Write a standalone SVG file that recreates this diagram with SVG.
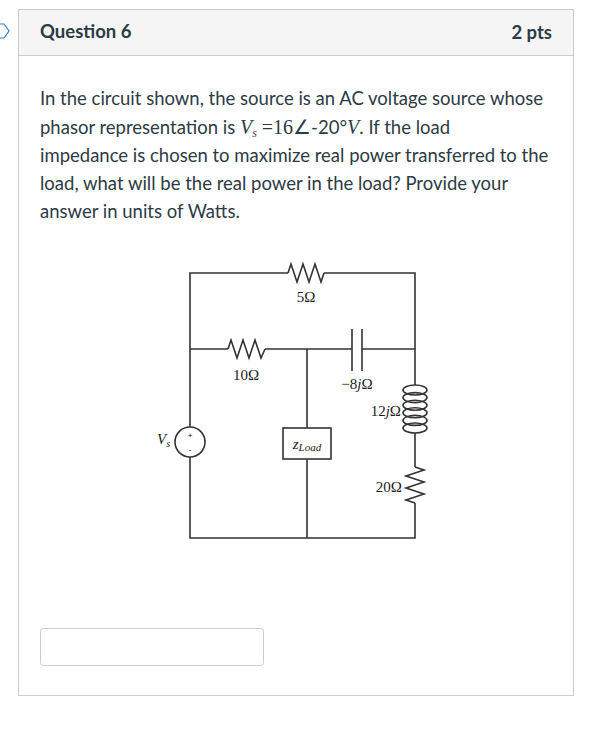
<svg xmlns="http://www.w3.org/2000/svg" width="602" height="729" viewBox="0 0 602 729">
<style>
.t{font-family:"Lato","Liberation Sans",sans-serif;font-size:18.5px;fill:#2d3b45}
.w{fill:none;stroke:#333;stroke-width:1.6}
.l{font-family:"Liberation Serif",serif;font-size:15px;fill:#222}
</style>
<rect width="602" height="729" fill="#fff"/>
<path d="M0 24 L4 24 L9 31 L4 38 L0 38" fill="none" stroke="#2d7bd0" stroke-width="1.2"/>
<rect x="18.5" y="9.5" width="555" height="686" fill="#fff" stroke="#c7cdd1"/>
<rect x="19" y="10" width="554" height="45" fill="#f5f5f5"/>
<line x1="19" y1="55.5" x2="573" y2="55.5" stroke="#c7cdd1"/>
<text x="40" y="38" class="t" font-weight="bold" font-size="18">Question 6</text>
<text x="552" y="39" class="t" text-anchor="end" font-weight="bold" font-size="17">2 pts</text>
<text class="t"><tspan x="40" y="105">In the circuit shown, the source is an AC voltage source whose</tspan>
<tspan x="40" y="134">phasor representation is <tspan font-family="Liberation Serif" font-style="italic" font-size="20">V<tspan font-size="12" dy="3">s</tspan></tspan><tspan font-family="Liberation Serif" font-size="20" dy="-3"> =16∠</tspan>-20°<tspan font-family="Liberation Serif" font-style="italic" font-size="20">V</tspan>.  If the load</tspan>
<tspan x="40" y="162">impedance is chosen to maximize real power transferred to the</tspan>
<tspan x="40" y="190">load, what will be the real power in the load?  Provide your</tspan>
<tspan x="40" y="218">answer in units of Watts.</tspan></text>
<g id="connectors">
<path class="w" d="M190 427 V273 H288 M324 273 H415 V385 M415 433 V467 M415 503 V538 H190 V457 M190 349 H228 M265 349 H352 M362 349 H415 M307 349 V428 M307 459 V538"/>
</g>
<g id="r5"><path class="w" d="M288 273 L291 264 L297 282 L303 264 L309 282 L315 264 L321 282 L324 273"/><text x="306" y="302" class="l" text-anchor="middle">5Ω</text></g>
<g id="r10"><path class="w" d="M228 349 L231 340 L237 358 L243 340 L249 358 L255 340 L261 358 L265 349"/><text x="246" y="380" class="l" text-anchor="middle">10Ω</text></g>
<g id="cap"><path class="w" d="M352 329 V371 M362 329 V371"/><text x="357" y="389" class="l" text-anchor="middle">−8<tspan font-style="italic">j</tspan>Ω</text></g>
<g id="ind" class="w">
<ellipse cx="415" cy="390" rx="12" ry="5"/><ellipse cx="415" cy="397.6" rx="12" ry="5"/><ellipse cx="415" cy="405.2" rx="12" ry="5"/><ellipse cx="415" cy="412.8" rx="12" ry="5"/><ellipse cx="415" cy="420.4" rx="12" ry="5"/><ellipse cx="415" cy="428" rx="12" ry="5"/>
<text x="401" y="416" class="l" text-anchor="end" stroke="none">12<tspan font-style="italic">j</tspan>Ω</text></g>
<g id="r20"><path class="w" d="M415 467 L424 470 L406 476 L424 482 L406 488 L424 494 L406 500 L415 503"/><text x="402" y="492" class="l" text-anchor="end">20Ω</text></g>
<g id="zload"><rect x="283" y="428" width="48" height="31" fill="#fff" stroke="#333" stroke-width="1.6"/><text x="307" y="449" class="l" text-anchor="middle" font-style="italic" font-size="14">z<tspan font-size="11" dy="2">Load</tspan></text></g>
<g id="vs"><circle cx="190" cy="442" r="15" fill="#fff" stroke="#333" stroke-width="1.6"/><text x="190" y="438" font-family="Liberation Sans" font-size="8" text-anchor="middle">+</text><text x="190" y="452" font-family="Liberation Sans" font-size="8" text-anchor="middle">-</text><text x="157" y="444" class="l" font-style="italic">V<tspan font-size="10" dy="3">s</tspan></text></g>
<rect x="40.5" y="628.5" width="223" height="37" rx="3" fill="#fff" stroke="#c7cdd1"/>
</svg>
